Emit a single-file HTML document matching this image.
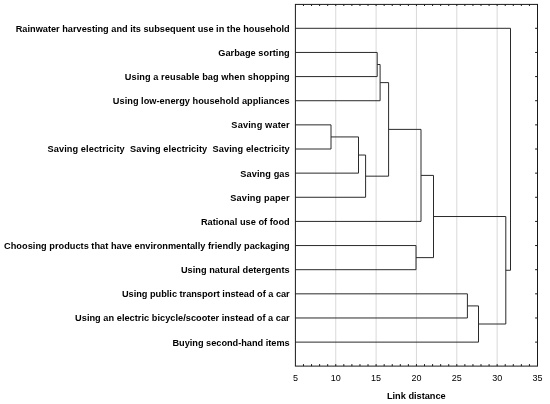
<!DOCTYPE html>
<html lang="en"><head><meta charset="utf-8"><title>Dendrogram</title>
<style>html,body{margin:0;padding:0;background:#fff;}body{width:550px;height:404px;overflow:hidden;}svg{display:block;}text{font-family:"Liberation Sans",Arial,sans-serif;font-size:9.2px;fill:#000;}.b{font-weight:bold;}</style>
</head><body>
<svg width="550" height="404" viewBox="0 0 550 404">
<rect x="0" y="0" width="550" height="404" fill="#fff"/>
<g stroke="#d9d9d9" stroke-width="1" fill="none">
<line x1="335.75" y1="4.4" x2="335.75" y2="366.1"/>
<line x1="376.10" y1="4.4" x2="376.10" y2="366.1"/>
<line x1="416.45" y1="4.4" x2="416.45" y2="366.1"/>
<line x1="456.80" y1="4.4" x2="456.80" y2="366.1"/>
<line x1="497.15" y1="4.4" x2="497.15" y2="366.1"/>
</g>
<g stroke="#2a2a2a" stroke-width="1" fill="none" stroke-linejoin="miter">
<path d="M295.40 52.44H377.20V76.58H295.40"/>
<path d="M377.20 64.51H380.10V100.72H295.40"/>
<path d="M295.40 124.86H331.00V149.00H295.40"/>
<path d="M331.00 136.93H358.50V173.14H295.40"/>
<path d="M358.50 155.04H365.60V197.28H295.40"/>
<path d="M380.10 82.61H388.60V176.16H365.60"/>
<path d="M388.60 129.39H421.00V221.42H295.40"/>
<path d="M295.40 245.56H416.00V269.70H295.40"/>
<path d="M421.00 175.40H433.50V257.63H416.00"/>
<path d="M295.40 293.84H467.40V317.98H295.40"/>
<path d="M467.40 305.91H478.50V342.12H295.40"/>
<path d="M433.50 216.52H505.80V324.01H478.50"/>
<path d="M295.40 28.30H510.50V270.27H505.80"/>
</g>
<g stroke="#1a1a1a" stroke-width="1" fill="none">
<rect x="295.4" y="4.4" width="242.10" height="361.70"/>
</g>
<g stroke="#1a1a1a" stroke-width="1" fill="none">
<path d="M303.47 4.4v1.6M303.47 366.1v-2.0M311.54 4.4v1.6M311.54 366.1v-2.0M319.61 4.4v1.6M319.61 366.1v-2.0M327.68 4.4v1.6M327.68 366.1v-2.0M335.75 4.4v1.6M335.75 366.1v-2.0M343.82 4.4v1.6M343.82 366.1v-2.0M351.89 4.4v1.6M351.89 366.1v-2.0M359.96 4.4v1.6M359.96 366.1v-2.0M368.03 4.4v1.6M368.03 366.1v-2.0M376.10 4.4v1.6M376.10 366.1v-2.0M384.17 4.4v1.6M384.17 366.1v-2.0M392.24 4.4v1.6M392.24 366.1v-2.0M400.31 4.4v1.6M400.31 366.1v-2.0M408.38 4.4v1.6M408.38 366.1v-2.0M416.45 4.4v1.6M416.45 366.1v-2.0M424.52 4.4v1.6M424.52 366.1v-2.0M432.59 4.4v1.6M432.59 366.1v-2.0M440.66 4.4v1.6M440.66 366.1v-2.0M448.73 4.4v1.6M448.73 366.1v-2.0M456.80 4.4v1.6M456.80 366.1v-2.0M464.87 4.4v1.6M464.87 366.1v-2.0M472.94 4.4v1.6M472.94 366.1v-2.0M481.01 4.4v1.6M481.01 366.1v-2.0M489.08 4.4v1.6M489.08 366.1v-2.0M497.15 4.4v1.6M497.15 366.1v-2.0M505.22 4.4v1.6M505.22 366.1v-2.0M513.29 4.4v1.6M513.29 366.1v-2.0M521.36 4.4v1.6M521.36 366.1v-2.0M529.43 4.4v1.6M529.43 366.1v-2.0M537.5 28.30h-2.4M537.5 52.44h-2.4M537.5 76.58h-2.4M537.5 100.72h-2.4M537.5 124.86h-2.4M537.5 149.00h-2.4M537.5 173.14h-2.4M537.5 197.28h-2.4M537.5 221.42h-2.4M537.5 245.56h-2.4M537.5 269.70h-2.4M537.5 293.84h-2.4M537.5 317.98h-2.4M537.5 342.12h-2.4"/>
</g>
<g class="b" text-anchor="end">
<text x="289.7" y="31.70" textLength="274.00" lengthAdjust="spacing" xml:space="preserve">Rainwater harvesting and its subsequent use in the household</text>
<text x="289.7" y="55.84" textLength="71.46" lengthAdjust="spacing" xml:space="preserve">Garbage sorting</text>
<text x="289.7" y="79.98" textLength="164.95" lengthAdjust="spacing" xml:space="preserve">Using a reusable bag when shopping</text>
<text x="289.7" y="104.12" textLength="176.85" lengthAdjust="spacing" xml:space="preserve">Using low-energy household appliances</text>
<text x="289.7" y="128.26" textLength="58.35" lengthAdjust="spacing" xml:space="preserve">Saving water</text>
<text x="289.7" y="152.40" textLength="242.16" lengthAdjust="spacing" xml:space="preserve">Saving electricity  Saving electricity  Saving electricity</text>
<text x="289.7" y="176.54" textLength="49.47" lengthAdjust="spacing" xml:space="preserve">Saving gas</text>
<text x="289.7" y="200.68" textLength="59.37" lengthAdjust="spacing" xml:space="preserve">Saving paper</text>
<text x="289.7" y="224.82" textLength="88.82" lengthAdjust="spacing" xml:space="preserve">Rational use of food</text>
<text x="289.7" y="248.96" textLength="285.63" lengthAdjust="spacing" xml:space="preserve">Choosing products that have environmentally friendly packaging</text>
<text x="289.7" y="273.10" textLength="108.77" lengthAdjust="spacing" xml:space="preserve">Using natural detergents</text>
<text x="289.7" y="297.24" textLength="167.78" lengthAdjust="spacing" xml:space="preserve">Using public transport instead of a car</text>
<text x="289.7" y="321.38" textLength="214.62" lengthAdjust="spacing" xml:space="preserve">Using an electric bicycle/scooter instead of a car</text>
<text x="289.7" y="345.52" textLength="117.27" lengthAdjust="spacing" xml:space="preserve">Buying second-hand items</text>
</g>
<g text-anchor="middle">
<text x="295.40" y="380.5" style="font-size:9px">5</text>
<text x="335.75" y="380.5" style="font-size:9px">10</text>
<text x="376.10" y="380.5" style="font-size:9px">15</text>
<text x="416.45" y="380.5" style="font-size:9px">20</text>
<text x="456.80" y="380.5" style="font-size:9px">25</text>
<text x="497.15" y="380.5" style="font-size:9px">30</text>
<text x="537.50" y="380.5" style="font-size:9px">35</text>
</g>
<text class="b" text-anchor="middle" x="416.3" y="398.8">Link distance</text>
</svg></body></html>
